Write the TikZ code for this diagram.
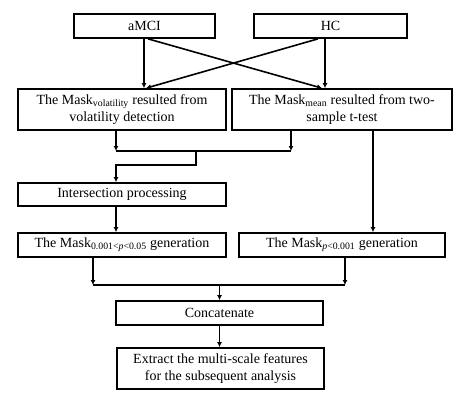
\documentclass[tikz,border=0pt]{standalone}
\usepackage{fontspec}
\setmainfont{Liberation Serif}
\usepackage{tikz}
\usetikzlibrary{arrows.meta,positioning,calc}

\begin{document}
\begin{tikzpicture}[x=1pt, y=-1pt,
        box/.style={draw, line width=1.7pt, align=center, inner sep=1pt,
                    font=\fontsize{14}{17}\selectfont},
        arrow/.style={-{Latex[length=5pt,width=5pt]}, line width=1.6pt},
        link/.style={line width=1.6pt}
    ]
        \useasboundingbox (0,0) rectangle (474,415);
        \node[box, minimum width=141pt, minimum height=24pt] (amci) at (144.5,26) {aMCI};
        \node[box, minimum width=153pt, minimum height=24pt] (hc) at (330.5,26) {HC};
        \node[box, minimum width=208pt, minimum height=41pt] (vol) at (122,109.5)
            {The Mask\textsubscript{volatility} resulted from\\volatility detection};
        \node[box, minimum width=220pt, minimum height=41pt] (mean) at (342,109.5)
            {The Mask\textsubscript{mean} resulted from two-\\sample t-test};
        \node[box, minimum width=208pt, minimum height=23pt] (inter) at (122,194.5) {Intersection processing};
        \node[box, minimum width=208pt, minimum height=24pt] (lowp) at (122,245)
            {The Mask\textsubscript{0.001<\textit{p}<0.05} generation};
        \node[box, minimum width=206pt, minimum height=24pt] (highp) at (342,245)
            {The Mask\textsubscript{\textit{p}<0.001} generation};
        \node[box, minimum width=207pt, minimum height=24pt] (concat) at (219.5,313) {Concatenate};
        \node[box, minimum width=207pt, minimum height=41pt] (extract) at (220.5,368.5)
            {Extract the multi-scale features\\for the subsequent analysis};

        % junctions
        \coordinate (joinA) at (116,151);
        \coordinate (joinB) at (291,151);
        \coordinate (dropA) at (196,165);
        \coordinate (joinC) at (93,285);
        \coordinate (joinD) at (345,285);

        % crossing arrows from the two groups
        \draw[arrow] ([xshift=-0.5pt]amci.south) -- ([xshift=-0.5pt]amci.south |- vol.north);
        \draw[arrow] ([xshift=3.5pt]amci.south) -- ([xshift=-20pt]mean.north);
        \draw[arrow] ([xshift=-12.5pt]hc.south) -- ([xshift=24pt]vol.north);
        \draw[arrow] ([xshift=-5.5pt]hc.south) -- ([xshift=-5.5pt]hc.south |- mean.north);

        % merge into intersection
        \draw[arrow] (vol.south -| joinA) -- (joinA);
        \draw[arrow] (mean.south -| joinB) -- (joinB);
        \draw[link] (joinA) -- (joinB);
        \draw[arrow] (dropA |- joinA) -- (dropA) -| (inter.north -| joinA);
        \draw[arrow] (inter.south -| joinA) -- (lowp.north -| joinA);
        \draw[arrow] ([xshift=31pt]mean.south) -- ([xshift=31pt]mean.south |- highp.north);

        % merge into concatenate
        \draw[arrow] (lowp.south -| joinC) -- (joinC);
        \draw[arrow] (highp.south -| joinD) -- (joinD);
        \draw[link] (joinC) -- (joinD);
        \draw[arrow] (concat.north |- joinC) -- (concat.north);
        \draw[arrow] (concat.south) -- (concat.south |- extract.north);
    \end{tikzpicture}
\end{document}
